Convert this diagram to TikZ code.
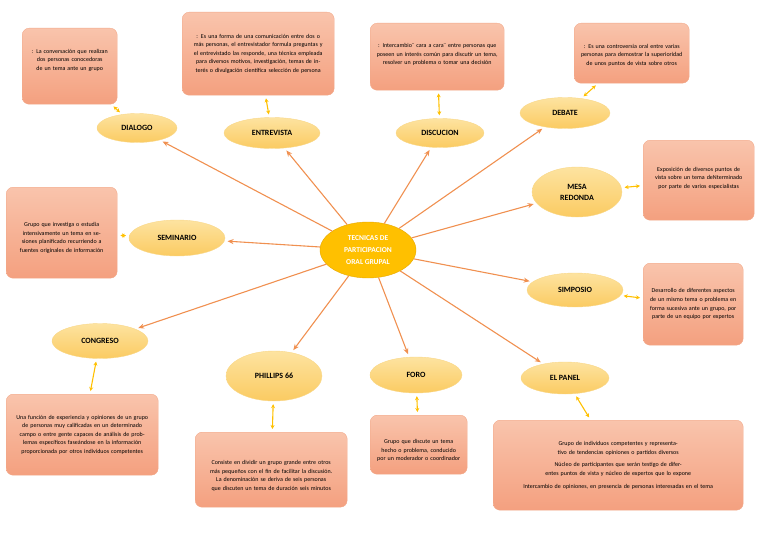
\documentclass[tikz,border=0pt]{standalone}
\usepackage{fontspec}
\setmainfont{Carlito}
\usetikzlibrary{shapes.geometric,arrows.meta}
\definecolor{boxtop}{HTML}{F9C4AC}
\definecolor{boxbot}{HTML}{F4A07F}
\definecolor{boxline}{HTML}{F2A98A}
\definecolor{elltop}{HTML}{FDE3A0}
\definecolor{ellbot}{HTML}{FBCB62}
\definecolor{ellline}{HTML}{F9D788}
\definecolor{ctr}{HTML}{FFC000}
\definecolor{ctrline}{HTML}{E6A800}
\definecolor{orarr}{HTML}{ED7D31}
\definecolor{yarr}{HTML}{FFC000}
\tikzset{
  infobox/.style={draw=boxline, rounded corners=7pt, top color=boxtop, bottom color=boxbot, align=center, font=\fontsize{6}{8.6}\selectfont, inner sep=3pt},
  tech/.style={ellipse, draw=ellline, top color=elltop, bottom color=ellbot, font=\fontsize{8}{11}\selectfont\bfseries, align=center, inner sep=0pt},
  mainarr/.style={draw=orarr!85, line width=1.1pt, -{Stealth[length=6pt,width=5pt]}, shorten >=3pt},
  linkarr/.style={draw=yarr, line width=1.1pt, {Stealth[length=4pt,width=4pt]}-{Stealth[length=4pt,width=4pt]}, shorten >=3pt, shorten <=3pt}
}
\begin{document}
\begin{tikzpicture}[x=1pt,y=-1pt]
\useasboundingbox (0,0) rectangle (768,543);
% center
\node[ellipse, draw=ctrline, fill=ctr, minimum width=96pt, minimum height=56pt, text=white, font=\fontsize{7.5}{12}\selectfont\bfseries, align=center, inner sep=0pt] (c) at (368,250) {TECNICAS DE\\PARTICIPACION\\ORAL GRUPAL};
% techniques
\node[tech, minimum width=80pt, minimum height=29pt] (dia) at (137,128) {DIALOGO};
\node[tech, minimum width=96pt, minimum height=31pt] (ent) at (272,133) {ENTREVISTA};
\node[tech, minimum width=88pt, minimum height=29pt] (dis) at (440,133) {DISCUCION};
\node[tech, minimum width=90pt, minimum height=31pt] (deb) at (565,113) {DEBATE};
\node[tech, minimum width=90pt, minimum height=50pt] (mes) at (577,192) {MESA\\REDONDA};
\node[tech, minimum width=96pt, minimum height=36pt] (sem) at (177,238) {SEMINARIO};
\node[tech, minimum width=96pt, minimum height=34pt] (sim) at (575,290) {SIMPOSIO};
\node[tech, minimum width=96pt, minimum height=35pt] (con) at (100,341) {CONGRESO};
\node[tech, minimum width=96pt, minimum height=50pt] (phi) at (274,376) {PHILLIPS 66};
\node[tech, minimum width=92pt, minimum height=36pt] (for) at (416,375) {FORO};
\node[tech, minimum width=88pt, minimum height=32pt] (pan) at (565,378) {EL PANEL};
% boxes
\node[infobox, minimum width=95pt, minimum height=76pt, text width=80pt, anchor=north west, text depth=30pt] (bdia) at (22,28) {: La conversación que realizan dos personas conocedoras de un tema ante un grupo};
\node[infobox, minimum width=152pt, minimum height=83pt, text width=142pt, anchor=north west] (bent) at (182,12) {: Es una forma de una comunicación entre dos o más personas, el entrevistador formula preguntas y el entrevistado las responde, una técnica empleada para diversos motivos, investigación, temas de interés o divulgación científica selección de persona};
\node[infobox, minimum width=134pt, minimum height=67pt, text width=126pt, anchor=north west, text depth=22pt] (bdis) at (370,23) {: Intercambio¨ cara a cara¨ entre personas que poseen un interés común para discutir un tema, resolver un problema o tomar una decisión};
\node[infobox, minimum width=115pt, minimum height=60pt, text width=106pt, anchor=north west, text depth=14pt] (bdeb) at (574,23) {: Es una controversia oral entre varias personas para demostrar la superioridad de unos puntos de vista sobre otros};
\node[infobox, minimum width=111pt, minimum height=80pt, text width=100pt, anchor=north west, text depth=22pt] (bmes) at (643,140) {Exposición de diversos puntos de vista sobre un tema deNterminado por parte de varios especialistas};
\node[infobox, minimum width=111pt, minimum height=91pt, text width=100pt, anchor=north west, text depth=16pt] (bsem) at (6,187) {Grupo que investiga o estudia intensivamente un tema en sesiones planificado recurriendo a fuentes originales de información};
\node[infobox, minimum width=100pt, minimum height=82pt, text width=90pt, anchor=north west] (bsim) at (643,263) {Desarrollo de diferentes aspectos de un mismo tema o problema en forma sucesiva ante un grupo, por parte de un equipo por expertos};
\node[infobox, minimum width=152pt, minimum height=81pt, text width=142pt, anchor=north west] (bcon) at (6,394) {Una función de experiencia y opiniones de un grupo de personas muy calificadas en un determinado campo o entre gente capaces de análisis de problemas específicos faseándose en la información proporcionada por otros individuos competentes};
\node[infobox, minimum width=152pt, minimum height=75pt, text width=142pt, anchor=north west, text depth=14pt] (bphi) at (195,432) {Consiste en dividir un grupo grande entre otros más pequeños con el fin de facilitar la discusión. La denominación se deriva de seis personas que discuten un tema de duración seis minutos};
\node[infobox, minimum width=97pt, minimum height=59pt, text width=88pt, anchor=north west, text depth=6pt] (bfor) at (370,415) {Grupo que discute un tema hecho o problema, conducido por un moderador o coordinador};
\node[infobox, minimum width=250pt, minimum height=90pt, text width=236pt, anchor=north west] (bpan) at (493,420) {Grupo de individuos competentes y representativo de tendencias opiniones o partidos diversos\\[4pt] Núcleo de participantes que serán testigo de diferentes puntos de vista y núcleo de expertos que lo expone\\[4pt] Intercambio de opiniones, en presencia de personas interesadas en el tema};
% main arrows
\foreach \t in {dia,ent,dis,deb,mes,sem,sim,con,phi,for,pan}
  \draw[mainarr] (c) -- (\t);
% link arrows
\draw[linkarr] (dia) -- (bdia);
\draw[linkarr] (ent) -- (bent);
\draw[linkarr] (dis) -- (bdis);
\draw[linkarr] (deb) -- (bdeb);
\draw[linkarr] (mes) -- (bmes);
\draw[linkarr] (sem) -- (bsem);
\draw[linkarr] (sim) -- (bsim);
\draw[linkarr] (con) -- (bcon);
\draw[linkarr] (phi) -- (bphi);
\draw[linkarr] (for) -- (bfor);
\draw[linkarr] (pan) -- (bpan);
\end{tikzpicture}
\end{document}
